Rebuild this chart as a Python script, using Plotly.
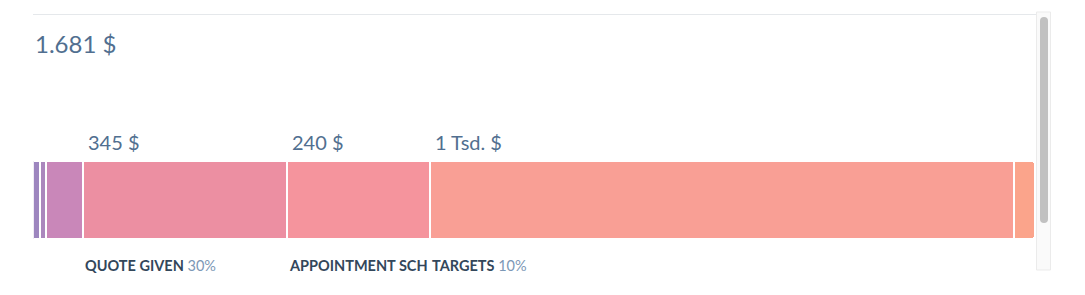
import plotly.graph_objects as go

# ---- data ----
stage_names = ["", "", "", "QUOTE GIVEN", "APPOINTMENT SCH", "TARGETS", ""]
stage_values = [11, 10, 63, 342, 240, 980, 35]
value_labels = ["", "", "", "345 $", "240 $", "1 Tsd. $", ""]
pct_labels = ["", "", "", "30%", "", "10%", ""]
total_label = "1.681 $"

# ---- style ----
colors = ["#9d86bf", "#ab87bd", "#c987b9", "#ec8fa2", "#f5949d", "#f99f95", "#fba48b"]
W, H = 1085, 295
FONT = "Lato"
SLATE = "#516f90"
DARK = "#33475b"
LIGHT = "#7c98b6"


def px(x):
    return x / W


def py(y):
    return 1 - y / H


total = sum(stage_values)
fig = go.Figure()
bases = []
acc = 0
for name, v, c in zip(stage_names, stage_values, colors):
    bases.append(acc)
    fig.add_trace(go.Bar(
        x=[v], y=[H - 200], orientation="h", width=78,
        marker=dict(color=c, line=dict(color="white", width=2)),
        name=name, hoverinfo="skip", showlegend=False,
    ))
    acc += v

annotations = []
annotations.append(dict(
    x=px(33), y=py(44), xref="paper", yref="paper", xanchor="left", yanchor="middle",
    text=total_label, showarrow=False, font=dict(family=FONT, size=24, color=SLATE),
))
for b, vl, nm, pc in zip(bases, value_labels, stage_names, pct_labels):
    if vl:
        annotations.append(dict(
            x=b, y=H - 142, xref="x", yref="y", xanchor="left", yanchor="middle",
            xshift=3, text=vl, showarrow=False,
            font=dict(family=FONT, size=20, color=SLATE),
        ))
    if nm:
        t = f"<b>{nm}</b>"
        if pc:
            t += f" <span style='color:{LIGHT};font-weight:normal'>{pc}</span>"
        annotations.append(dict(
            x=b, y=H - 265.5, xref="x", yref="y", xanchor="left", yanchor="middle",
            xshift=0, text=t, showarrow=False,
            font=dict(family=FONT, size=14.5, color=DARK),
        ))

shapes = [
    # top border
    dict(type="line", xref="paper", yref="paper", x0=px(33), x1=px(1037), y0=py(14.5), y1=py(14.5),
         line=dict(color="#e5e8eb", width=1)),
    # scrollbar track
    dict(type="rect", xref="paper", yref="paper", x0=px(1036.5), x1=px(1050.5), y0=py(12), y1=py(270),
         fillcolor="#fafafa", line=dict(color="#ebebeb", width=1)),
    # scrollbar thumb
    dict(type="path", xref="paper", yref="paper",
         path=(f"M {px(1040)},{py(21)} Q {px(1040)},{py(17)} {px(1044)},{py(17)} "
               f"Q {px(1048)},{py(17)} {px(1048)},{py(21)} L {px(1048)},{py(219)} "
               f"Q {px(1048)},{py(223)} {px(1044)},{py(223)} Q {px(1040)},{py(223)} {px(1040)},{py(219)} Z"),
         fillcolor="#c1c1c1", line=dict(width=0)),
]

fig.update_layout(
    width=W, height=H, autosize=False,
    margin=dict(l=0, r=0, t=0, b=0, pad=0),
    paper_bgcolor="white", plot_bgcolor="white",
    barmode="stack", barcornerradius=4,
    xaxis=dict(domain=[px(33.2), px(1035.2)], range=[0, total], visible=False, fixedrange=True),
    yaxis=dict(domain=[0, 1], range=[0, H], visible=False, fixedrange=True),
    annotations=annotations, shapes=shapes,
)

fig.write_html("out.html", config={"displayModeBar": False})
